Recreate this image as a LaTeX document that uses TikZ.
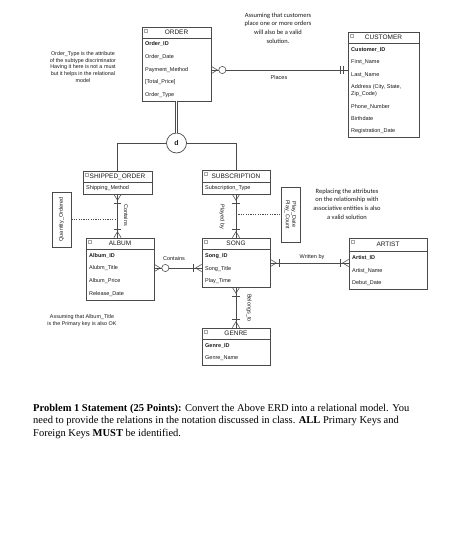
\documentclass[tikz,border=0pt]{standalone}
\usepackage{fontspec}
\setmainfont{Liberation Sans}
\newfontfamily\notefont{Carlito}
\newfontfamily\probfont{Liberation Serif}
\usetikzlibrary{fit,calc}
\definecolor{ln}{HTML}{4A4A4A}
\definecolor{tx}{HTML}{1A1A1A}
\tikzset{
 ent/.style={draw=ln, line width=0.7pt, inner sep=0pt},
 ttl/.style={font=\fontsize{6.5}{7}\selectfont, text=tx, inner sep=0pt},
 attr/.style={font=\fontsize{5.5}{6.4}\selectfont, text=tx, inner sep=0pt, anchor=west, align=left},
 rel/.style={draw=ln, line width=0.55pt},
 rlab/.style={font=\fontsize{5.5}{6.4}\selectfont, text=tx, inner sep=0pt},
 note/.style={font=\fontsize{5.4}{6.7}\selectfont, text=tx, align=center, inner sep=0pt},
 cnote/.style={font={\notefont\fontsize{6.5}{8.7}\selectfont}, text=tx, align=center, inner sep=0pt},
 dots/.style={draw=ln, line width=0.5pt, dash pattern=on 1.2pt off 1.2pt},
 abox/.style={draw=ln, line width=0.7pt, inner sep=0pt},
 manyopt/.pic={\draw[rel] (0,-3.6) -- (6,0) -- (0,3.6); \draw[rel, fill=white] (11,0) circle (3.6);},
 manyone/.pic={\draw[rel] (0,-3.6) -- (6,0) -- (0,3.6); \draw[rel] (8.5,-3.6) -- (8.5,3.6);},
 onlyone/.pic={\draw[rel] (4,-4) -- (4,4); \draw[rel] (7,-4) -- (7,4);},
}
\newcommand{\mkent}[7]{%
 \node[ent, fit={(#2,#3)(#4,#5)}] (#1) {};
 \draw[ent] (#2,#6) -- (#4,#6);
 \draw[draw=gray!70, line width=0.4pt] (#2+2.5,#3+2.5) rectangle ++(3,3);
 \node[ttl] (#1-t) at ({(#2+#4)/2},{(#3+#6)/2}) {#7};
}
\begin{document}
\begin{tikzpicture}[x=1pt,y=-1pt]
\fill[white] (0,0) rectangle (474,544);
\useasboundingbox (0,0) rectangle (474,544);

% ORDER
\mkent{order}{142}{27}{211}{101}{38}{ORDER}
\node[attr] (o1) at (145,44) {\textbf{Order\_ID}};
\node[attr] (o2) at (145,57) {Order\_Date};
\node[attr] (o3) at (145,70) {Payment\_Method};
\node[attr] (o4) at (145,82) {[Total\_Price]};
\node[attr] (o5) at (145,95) {Order\_Type};

% CUSTOMER
\mkent{cust}{348}{32}{419}{137}{43}{CUSTOMER}
\node[attr] (c1) at (351,50) {\textbf{Customer\_ID}};
\node[attr] (c2) at (351,62) {First\_Name};
\node[attr] (c3) at (351,75) {Last\_Name};
\node[attr] (c4) at (351,90.5) {Address (City, State,\\Zip\_Code)};
\node[attr] (c5) at (351,107) {Phone\_Number};
\node[attr] (c6) at (351,119) {Birthdate};
\node[attr] (c7) at (351,131) {Registration\_Date};

\draw[rel] (order.east |- o3) -- (cust.west |- o3);
\pic[rotate=0] at (order.east |- o3) {manyopt};
\pic[rotate=180] at (cust.west |- o3) {onlyone};
\node[rlab] (places) at (279,78) {Places};

% d
\node[circle, draw=ln, line width=0.7pt, minimum size=20pt, inner sep=0pt, font=\bfseries\fontsize{7}{8}\selectfont, text=tx] (d) at (176.5,143) {d};
\draw[draw=ln, line width=0.5pt, double=white, double distance=1.3pt] (order.south) -- (d.north);

% subtypes
\mkent{ship}{83}{171}{152}{194}{182}{SHIPPED\_ORDER}
\node[attr] (s1) at (86,188) {Shipping\_Method};
\mkent{subs}{202}{170}{270}{194}{182}{SUBSCRIPTION}
\node[attr] (b1) at (205,188) {Subscription\_Type};
\draw[rel] (d.west) -| (ship.north);
\draw[rel] (d.east) -| (subs.north);

% ALBUM
\mkent{album}{86}{238}{154}{300}{249}{ALBUM}
\node[attr] (a1) at (89,256) {\textbf{Album\_ID}};
\node[attr] (a2) at (89,268) {Alubm\_Title};
\node[attr] (a3) at (89,281) {Album\_Price};
\node[attr] (a4) at (89,294) {Release\_Date};

% SONG
\mkent{song}{202}{238}{270}{287}{249}{SONG}
\node[attr] (g1) at (205,256) {\textbf{Song\_ID}};
\node[attr] (g2) at (205,269) {Song\_Title};
\node[attr] (g3) at (205,281) {Play\_Time};

% ARTIST
\mkent{artist}{349}{238}{427}{289}{251}{ARTIST}
\node[attr] (r1) at (352,258) {\textbf{Artist\_ID}};
\node[attr] (r2) at (352,271) {Artist\_Name};
\node[attr] (r3) at (352,283) {Debut\_Date};

% GENRE
\mkent{genre}{202}{328}{270}{365}{339}{GENRE}
\node[attr] (e1) at (205,346) {\textbf{Genre\_ID}};
\node[attr] (e2) at (205,358) {Genre\_Name};

% SHIPPED_ORDER - ALBUM
\draw[rel] (ship.south) -- (ship.south |- album.north);
\pic[rotate=-90] at (ship.south) {manyone};
\pic[rotate=90] at (ship.south |- album.north) {manyone};
\node[rlab, rotate=-90] (contains1) at (126,215) {Contains};
\node[abox, minimum width=19pt, minimum height=55pt] (qty) at (61.5,219.5) {};
\node[rlab, rotate=90] (qtyt) at (qty) {Quantity\_Ordered};
\draw[dots] (qty.east) -- (qty.east -| ship.south);

% SUBSCRIPTION - SONG
\draw[rel] (subs.south) -- (song.north);
\pic[rotate=-90] at (subs.south) {manyone};
\pic[rotate=90] at (song.north) {manyone};
\node[rlab, rotate=-90] (played) at (222,217) {Played by};
\node[abox, minimum width=19pt, minimum height=55pt] (play) at (290.5,214.5) {};
\node[rlab, rotate=-90, align=center] (playt) at (play) {Play\_Date\\Play\_Count};
\draw[dots] (play.west -| subs.south) -- (play.west);

% ALBUM - SONG
\draw[rel] (album.east |- a2) -- (song.west |- a2);
\pic[rotate=0] at (album.east |- a2) {manyopt};
\pic[rotate=180] at (song.west |- a2) {manyone};
\node[rlab] (contains2) at (174,259) {Contains};

% SONG - ARTIST
\coordinate (sa) at (0,263);
\draw[rel] (song.east |- sa) -- (artist.west |- sa);
\pic[rotate=0] at (song.east |- sa) {manyone};
\pic[rotate=180] at (artist.west |- sa) {manyone};
\node[rlab] (written) at (312,257) {Written by};

% SONG - GENRE
\draw[rel] (song.south) -- (genre.north);
\pic[rotate=-90] at (song.south) {manyone};
\pic[rotate=90] at (genre.north) {manyone};
\node[rlab, rotate=-90] (belongs) at (249,308) {Belongs\_to};

% notes
\node[note] (n1) at (83,67) {Order\_Type is the attribute\\of the subtype discriminator\\Having it here is not a must\\but it helps in the relational\\model};
\node[cnote] (n2) at (278,28) {Assuming that customers\\place one or more orders\\will also be a valid\\solution.};
\node[cnote] (n3) at (347,204) {Replacing the attributes\\on the relationship with\\associative entities is also\\a valid solution};
\node[note] (n4) at (82,320.5) {Assuming that Album\_Title\\is the Primary key is also OK};

% problem statement
\node[anchor=north west, inner sep=0pt, align=left, font=\probfont\fontsize{10.5}{12.5}\selectfont, text=black] (prob) at (33,404) {\textbf{Problem 1 Statement (25 Points):} Convert the Above ERD into a relational model. You\\need to provide the relations in the notation discussed in class. \textbf{ALL} Primary Keys and\\Foreign Keys \textbf{MUST} be identified.};
\end{tikzpicture}
\end{document}
